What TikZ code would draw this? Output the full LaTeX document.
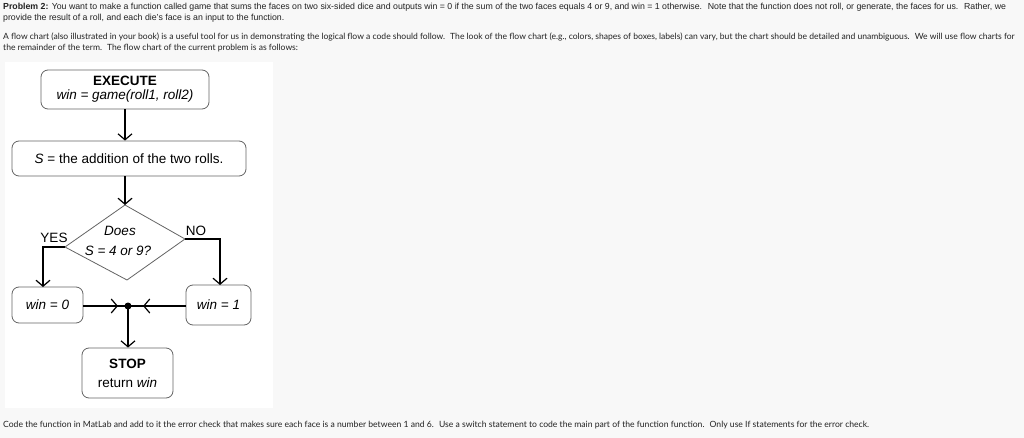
\documentclass[tikz,border=0pt]{standalone}
\usepackage{fontspec}
\setmainfont{Liberation Sans}
\newfontfamily\lato{Lato}
\usetikzlibrary{arrows.meta}
\definecolor{bg}{RGB}{248,248,248}
\definecolor{txt}{RGB}{34,34,34}
\definecolor{boxline}{RGB}{100,100,100}
\tikzset{
  box/.style={draw=boxline,line width=0.8pt,rounded corners=7pt,fill=white,inner sep=0pt,align=center,font=\fontsize{13.5}{15}\selectfont},
  conn/.style={line width=1.2pt,black},
  arrowend/.style={-{Straight Barb[length=6pt,width=14pt]}},
  hdr/.style={anchor=base west,inner sep=0pt,text=txt},
  lbl/.style={inner sep=0pt,font=\fontsize{13.5}{15}\selectfont}
}
\begin{document}
\begin{tikzpicture}[x=1pt,y=-1pt]
\useasboundingbox (0,0) rectangle (1024,438);
\fill[bg] (0,0) rectangle (1024,438);
\fill[white] (5,62) rectangle (273,408);
% header text
\node[hdr,font=\fontsize{8.77}{10}\selectfont] (h1) at (3,9.5) {\textbf{Problem 2:} You want to make a function called game that sums the faces on two six-sided dice and outputs win = 0 if the sum of the two faces equals 4 or 9, and win = 1 otherwise.~ Note that the function does not roll, or generate, the faces for us.~ Rather, we};
\node[hdr,font=\fontsize{8.77}{10}\selectfont] (h2) at (3,20.5) {provide the result of a roll, and each die's face is an input to the function.};
\node[hdr,font=\lato\fontsize{8.55}{10}\selectfont] (h3) at (3,40) {A flow chart (also illustrated in your book) is a useful tool for us in demonstrating the logical flow a code should follow.~ The look of the flow chart (e.g., colors, shapes of boxes, labels) can vary, but the chart should be detailed and unambiguous.~ We will use flow charts for};
\node[hdr,font=\lato\fontsize{8.55}{10}\selectfont] (h4) at (3,51) {the remainder of the term.~ The flow chart of the current problem is as follows:};
\node[hdr,font=\lato\fontsize{8.6}{10}\selectfont] (ft) at (3,427) {Code the function in MatLab and add to it the error check that makes sure each face is a number between 1 and 6.~ Use a switch statement to code the main part of the function function.~ Only use If statements for the error check.};
% flow chart
\node[box,minimum width=168pt,minimum height=39pt] (exec) at (125,89.5) {\raisebox{-2pt}{\begin{tabular}{@{}c@{}}\textbf{EXECUTE}\\[-0.5pt]\textit{win = game(roll1, roll2)}\end{tabular}}};
\node[box,minimum width=234pt,minimum height=35pt] (sbox) at (129,158.5) {\textit{S} = the addition of the two rolls.};
\coordinate (dt) at (125,205);
\coordinate (dr) at (185,239);
\coordinate (db) at (127,280);
\coordinate (dl) at (65,247);
\draw[boxline,line width=0.8pt] (dt) -- (dr) -- (db) -- (dl) -- cycle;
\node[lbl] (does) at (120,231) {\textit{Does}};
\node[lbl] (q) at (118,251) {\textit{S = 4 or 9?}};
\node[lbl] (yes) at (54,238) {YES};
\node[lbl] (no) at (196,231) {NO};
\node[box,minimum width=71pt,minimum height=36pt] (w0) at (47.5,305) {\textit{win = 0}};
\node[box,minimum width=65pt,minimum height=40pt] (w1) at (218.5,305) {\textit{win = 1}};
\node[box,minimum width=91pt,minimum height=50pt,font=\fontsize{13.5}{19}\selectfont] (stop) at (127.5,373) {\textbf{STOP}\\return \textit{win}};
\coordinate (j) at (128,306);
\coordinate (ja) at (118,306);
\coordinate (jb) at (143,306);
\draw[conn,arrowend] (exec.south) -- (exec.south |- sbox.north);
\draw[conn,arrowend] (sbox.south -| dt) -- (dt);
\draw[conn,arrowend] (dl) -- (43,247) -- (43,287);
\draw[conn,arrowend] (dr) -- (220,239) -- (220,285);
\draw[conn] (w0.east |- j) -- (j);
\draw[conn,arrowend] (w0.east |- j) -- (ja);
\draw[conn] (w1.west |- j) -- (j);
\draw[conn,arrowend] (w1.west |- j) -- (jb);
\draw[conn,arrowend] (j) -- (j |- stop.north);
\fill[black] (j) circle[radius=3.5pt];
\end{tikzpicture}
\end{document}
